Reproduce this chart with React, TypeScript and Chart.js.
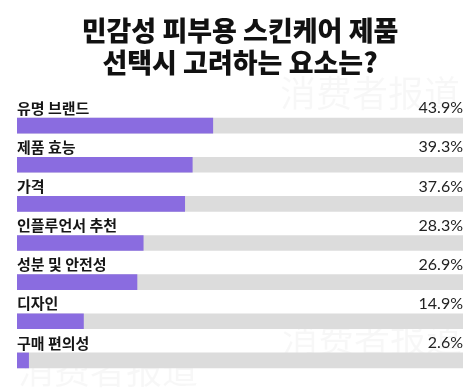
import React, { useEffect, useRef } from "react";
import { Chart, registerables } from "chart.js";

Chart.register(...registerables);

const titleLines = ["민감성 피부용 스킨케어 제품", "선택시 고려하는 요소는?"];
const categories = ["유명 브랜드", "제품 효능", "가격", "인플루언서 추천", "성분 및 안전성", "디자인", "구매 편의성"];
const values = [43.9, 39.3, 37.6, 28.3, 26.9, 14.9, 2.6];
const trackMax = 100;
const watermark = "消费者报道";

const PURPLE = "#8a6ce0";
const TRACK = "#dcdcdc";
const KR = "'Noto Sans CJK KR', 'Noto Sans', sans-serif";

const labelPlugin = {
  id: "rowLabels",
  beforeDatasetsDraw(chart: any) {
    const ctx = chart.ctx;
    ctx.save();
    ctx.fillStyle = "rgba(0,0,0,0.03)";
    ctx.font = "36px 'Noto Sans CJK SC', serif";
    ctx.textBaseline = "middle";
    ctx.textAlign = "left";
    ctx.fillText(watermark, 280, 93);
    ctx.fillText(watermark, 282, 338);
    ctx.fillText(watermark, 18, 370);
    ctx.restore();
  },
  afterDatasetsDraw(chart: any) {
    const ctx = chart.ctx;
    const meta = chart.getDatasetMeta(0);
    const area = chart.chartArea;
    ctx.save();
    ctx.textBaseline = "middle";
    meta.data.forEach((bar: any, i: number) => {
      const top = bar.y - bar.height / 2;
      const y = top - 10;
      ctx.fillStyle = "#161616";
      ctx.font = `bold 15px ${KR}`;
      ctx.textAlign = "left";
      ctx.fillText(categories[i], area.left, y);
      ctx.fillStyle = "#222222";
      ctx.font = "16px Lato, 'Noto Sans', sans-serif";
      ctx.textAlign = "right";
      ctx.fillText(values[i].toFixed(1) + "%", area.right, y);
    });
    ctx.restore();
  },
};

export default function App() {
  const ref = useRef<HTMLCanvasElement>(null);
  useEffect(() => {
    if (!ref.current) return;
    const chart = new Chart(ref.current, {
      type: "bar",
      data: {
        labels: categories,
        datasets: [
          {
            data: values,
            backgroundColor: PURPLE,
            grouped: false,
            barThickness: 15,
            borderWidth: 0,
          } as any,
          {
            data: categories.map(() => trackMax),
            backgroundColor: TRACK,
            grouped: false,
            barThickness: 15,
            borderWidth: 0,
          } as any,
        ],
      },
      options: {
        indexAxis: "y",
        animation: false,
        responsive: false,
        maintainAspectRatio: false,
        layout: { padding: { top: 0, bottom: 9, left: 17, right: 11 } },
        scales: {
          x: { display: false, min: 0, max: trackMax },
          y: { display: false },
        },
        plugins: {
          legend: { display: false },
          tooltip: { enabled: false },
          title: {
            display: true,
            text: titleLines,
            color: "#111111",
            font: { family: KR, size: 27, weight: "900", lineHeight: 1.185 },
            padding: { top: 15, bottom: 27 },
          },
        },
      },
      plugins: [labelPlugin],
    });
    return () => chart.destroy();
  }, []);
  return (
    <div style={{ position: "fixed", left: 0, top: 0, width: 474, height: 389, background: "#fff" }}>
      <canvas ref={ref} width={474} height={389} style={{ width: 474, height: 389, display: "block" }} />
    </div>
  );
}
